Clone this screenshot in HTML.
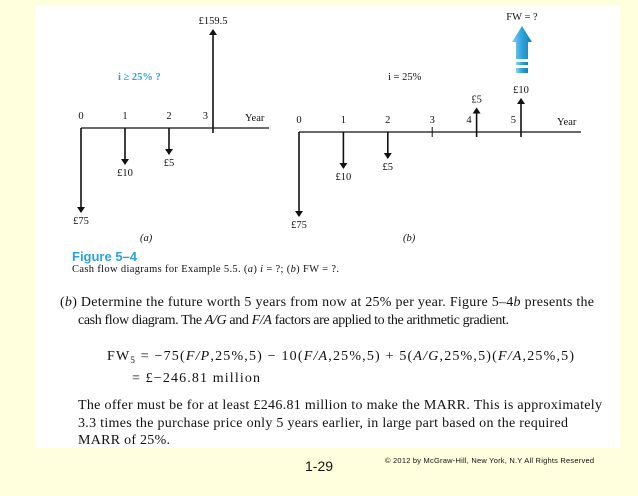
<!DOCTYPE html>
<html><head><meta charset="utf-8"><style>
html,body{margin:0;padding:0;background:#ffffdd;}
svg{display:block;}
text{font-family:"Liberation Serif",serif;fill:#111;}
.s{font-family:"Liberation Sans",sans-serif;}
</style></head><body>
<svg id="chart" width="638" height="496" viewBox="0 0 638 496">
<defs>
<marker id="ah" markerWidth="6" markerHeight="8" refX="5" refY="4" orient="auto" markerUnits="userSpaceOnUse"><path d="M0,0 L6,4 L0,8 z" fill="#111"/></marker>
<linearGradient id="bg" x1="0" x2="1"><stop offset="0" stop-color="#8fd0f0"/><stop offset="0.5" stop-color="#2aa3dc"/><stop offset="1" stop-color="#1780bd"/></linearGradient>
</defs>
<rect x="0" y="0" width="638" height="496" fill="#ffffdd"/>
<rect x="36" y="6" width="584" height="442" fill="#fff"/>
<g id="diagA"></g>
<g id="diagB"></g>
<text x="118" y="80" font-size="10.5" font-weight="bold" style="fill:#29a3e0">i ≥ 25% ?</text>
<text x="388" y="80" font-size="10.5">i = 25%</text>
<text x="140" y="241" font-size="10.5" font-style="italic">(a)</text>
<text x="403" y="241" font-size="10.5" font-style="italic">(b)</text>
<g>
<path d="M522,26 L532,42 L528,42 L528,59 L516,59 L516,42 L512,42 z" fill="url(#bg)"/>
<rect x="516" y="62" width="12" height="3" fill="url(#bg)"/>
<rect x="516" y="68" width="12" height="5" fill="url(#bg)"/>
</g>
<text x="522" y="20" font-size="10.5" text-anchor="middle">FW = ?</text>
<text x="72" y="261" font-size="13" font-weight="bold" class="s" style="fill:#29a3e0">Figure 5–4</text>
<text x="72" y="272" font-size="10.5" textLength="267">Cash flow diagrams for Example 5.5. (<tspan font-style="italic">a</tspan>) <tspan font-style="italic">i</tspan> = ?; (<tspan font-style="italic">b</tspan>) FW = ?.</text>
<text x="60" y="306" font-size="14" textLength="534">(<tspan font-style="italic">b</tspan>) Determine the future worth 5 years from now at 25% per year. Figure 5–4<tspan font-style="italic">b</tspan> presents the</text>
<text x="78" y="324" font-size="14" textLength="431">cash flow diagram. The <tspan font-style="italic">A/G</tspan> and <tspan font-style="italic">F/A</tspan> factors are applied to the arithmetic gradient.</text>
<text x="107" y="360" font-size="14" textLength="467">FW<tspan font-size="9" dy="3">5</tspan><tspan dy="-3"> = −75(<tspan font-style="italic">F/P</tspan>,25%,5) − 10(<tspan font-style="italic">F/A</tspan>,25%,5) + 5(<tspan font-style="italic">A/G</tspan>,25%,5)(<tspan font-style="italic">F/A</tspan>,25%,5)</tspan></text>
<text x="132" y="382" font-size="14" textLength="128">= £−246.81 million</text>
<text x="78" y="409" font-size="14" textLength="524">The offer must be for at least £246.81 million to make the MARR. This is approximately</text>
<text x="78" y="427" font-size="14" textLength="490">3.3 times the purchase price only 5 years earlier, in large part based on the required</text>
<text x="78" y="444" font-size="14" textLength="92">MARR of 25%.</text>
<text x="305" y="471" font-size="14" class="s">1-29</text>
<text x="385" y="463" font-size="7.5" class="s" textLength="209">© 2012 by McGraw-Hill, New York, N.Y All Rights Reserved</text>
</svg>
<script>
// Diagram (a) data
const yearsA = [0, 1, 2, 3];
const flowsA = [-75, -10, -5, 159.5];
const labelsA = ['£75', '£10', '£5', '£159.5'];
// Diagram (b) data
const yearsB = [0, 1, 2, 3, 4, 5];
const flowsB = [-75, -10, -5, 0, 5, 10];
const labelsB = ['£75', '£10', '£5', '', '£5', '£10'];

const NS = 'http://www.w3.org/2000/svg';
function mk(tag, attrs, parent) {
  const e = document.createElementNS(NS, tag);
  for (const k in attrs) e.setAttribute(k, attrs[k]);
  parent.appendChild(e);
  return e;
}
function lenScale(v, big) {
  const a = Math.abs(v);
  if (a >= 100) return big;
  if (a >= 50) return 84 + (a - 75) * 0.4;
  return 16 + a * 2;
}
function drawDiagram(g, years, flows, labels, x0, step, axisY, axisEnd, bigLen, tickMarks) {
  const xs = y => x0 + y * step;
  const ax = mk('line', {x1: x0, y1: axisY, x2: axisEnd, y2: axisY, stroke: '#111', 'stroke-width': 1.3}, g);
  
  
  const yl = mk('text', {x: axisEnd - 24, y: axisY - 7, 'font-size': 10.5}, g);
  yl.textContent = 'Year';
  
  
  years.forEach((yr, i) => {
    const x = xs(yr);
    const v = flows[i];
    const t = mk('text', {x: x - (v > 0 ? 5 : 0), y: axisY - 9, 'font-size': 10.5, 'text-anchor': v > 0 ? 'end' : 'middle'}, g);
    t.textContent = String(yr);
    
    
    if (tickMarks && v === 0) {
      const tk = mk('line', {x1: x, y1: axisY - 5, x2: x, y2: axisY + 5, stroke: '#111'}, g);
      
      
    }
    if (v === 0) return;
    const L = v > 0 && Math.abs(v) < 50 ? 14 + Math.abs(v) * 1.9 : lenScale(v, bigLen);
    const yEnd = v > 0 ? axisY - L : axisY + L;
    const ar = mk('line', {x1: x, y1: v > 0 ? axisY + 5 : axisY, x2: x, y2: yEnd, stroke: '#111', 'stroke-width': 1.6, 'marker-end': 'url(#ah)'}, g);
    
    
    const lb = mk('text', {x: x, y: v > 0 ? yEnd - 6 : yEnd + 12, 'font-size': 10.5, 'text-anchor': 'middle'}, g);
    lb.textContent = labels[i];
    
    
  });
}
drawDiagram(document.getElementById('diagA'), yearsA, flowsA, labelsA, 81, 44, 128, 269, 98, false);
drawDiagram(document.getElementById('diagB'), yearsB, flowsB, labelsB, 299, 44.4, 132, 581, 98, true);
</script>
</body></html>
